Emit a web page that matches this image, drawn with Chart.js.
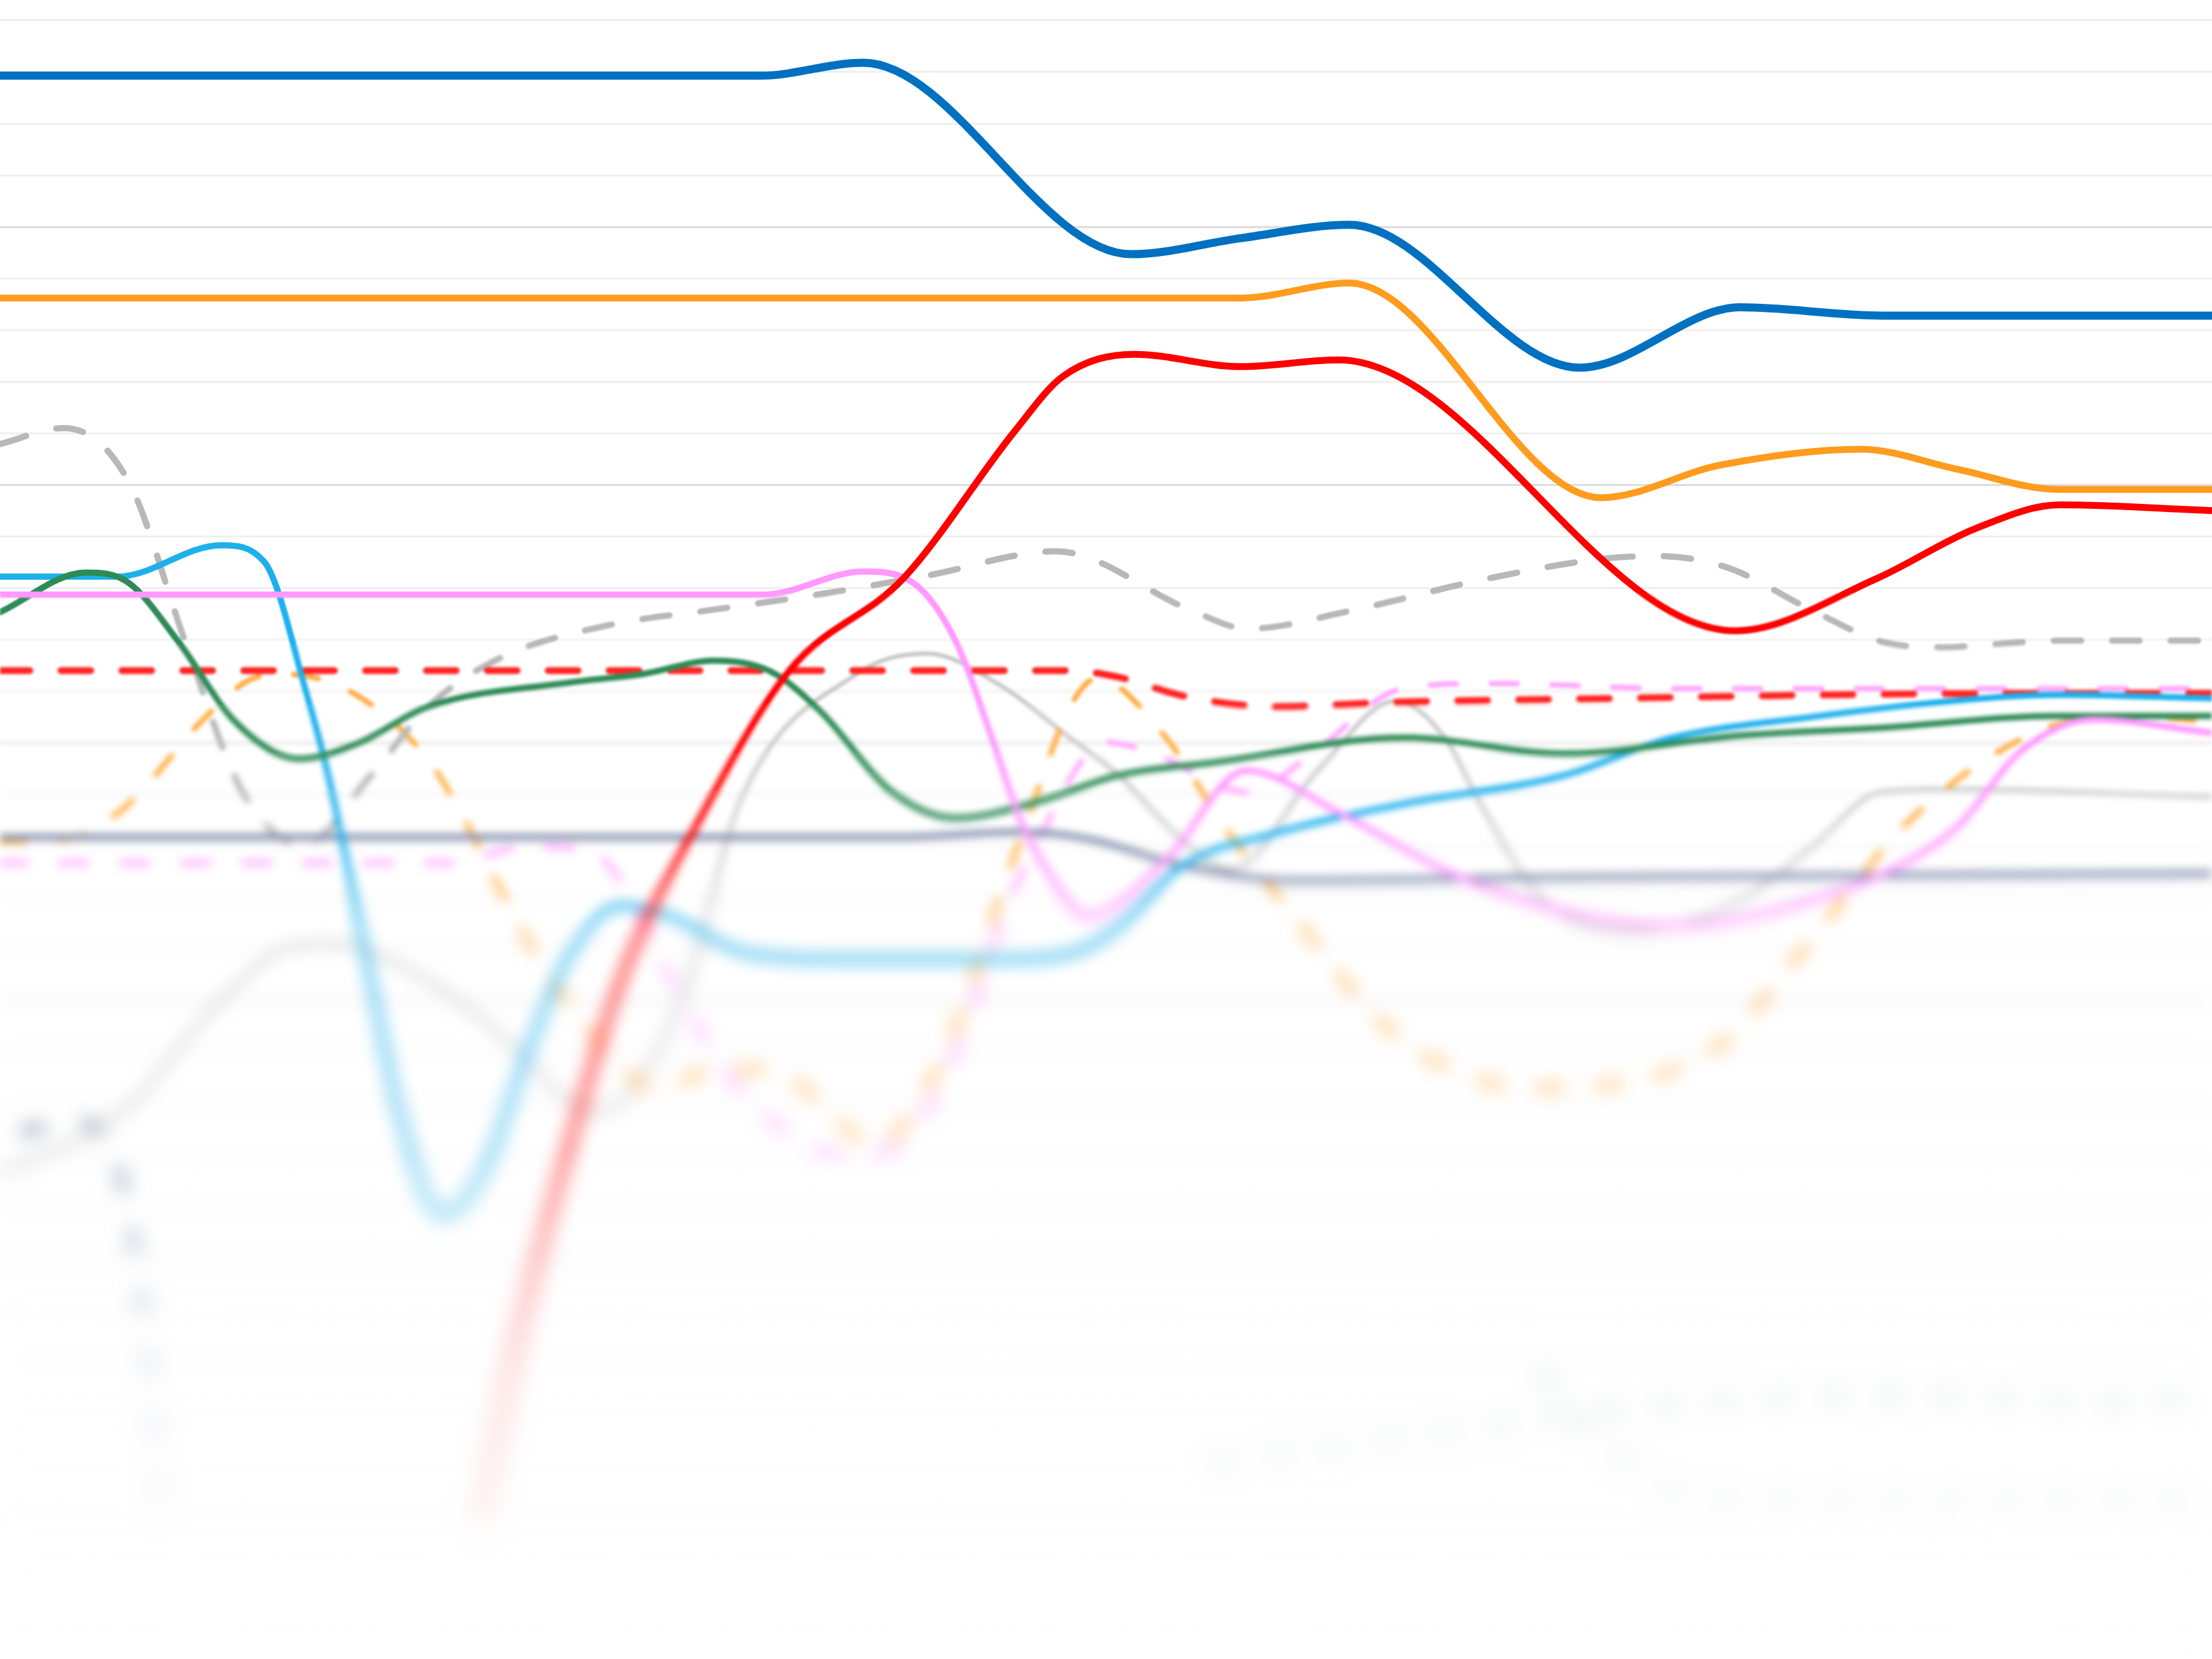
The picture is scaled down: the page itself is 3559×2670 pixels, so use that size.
<!DOCTYPE html>
<html><head><meta charset="utf-8">
<script src="https://cdn.jsdelivr.net/npm/chart.js@4.4.1/dist/chart.umd.min.js"></script>
<style>html,body{margin:0;padding:0;background:#fff;overflow:hidden;}#wrap{position:absolute;left:0;top:0;width:3559px;height:2670px;}</style>
</head><body><div id="wrap"><canvas id="c" width="3559" height="2670"></canvas></div>
<script>
// ---- data (x = time position, y = value) ----
const gridValues = [13,14,15,16,17,18,19,20,21,22,23,24,25,26,27,28,29,30,31,32,33,34,35,36,37,38,39,40,41,42,43,44];

const blueT = [0, 12.23, 13.89, 18.20, 19.96, 21.71, 25.42, 28.00, 30.28, 35.59];
const blueV = [42.93, 42.93, 43.18, 39.47, 39.78, 40.04, 37.27, 38.44, 38.28, 38.28];

const orangeT = [0, 19.96, 21.71, 25.76, 27.67, 29.94, 31.50, 33.12, 35.59];
const orangeV = [38.62, 38.62, 38.91, 34.75, 35.38, 35.69, 35.30, 34.91, 34.91];

const redT = [7.74, 8.27, 9.18, 9.99, 11.25, 12.71, 14.53, 16.34, 17.10, 18.25, 19.96, 21.54, 27.92, 30.19, 31.78, 33.14, 35.59];
const redV = [14.89, 18.13, 22.27, 25.39, 28.50, 31.41, 33.18, 36.06, 37.10, 37.53, 37.29, 37.42, 32.17, 33.18, 34.15, 34.61, 34.50];

const grayDashT = [0, 1.03, 2.07, 2.98, 3.90, 4.88, 5.97, 6.89, 8.04, 9.76, 11.48, 13.20, 14.92, 16.99, 19.16, 20.07, 21.77, 23.81, 25.74, 26.65, 27.78, 29.15, 30.28, 31.19, 33.12, 35.59];
const grayDashV = [35.79, 36.10, 35.06, 31.96, 29.05, 28.02, 29.37, 30.70, 31.64, 32.27, 32.58, 32.88, 33.24, 33.71, 32.57, 32.21, 32.57, 33.15, 33.56, 33.62, 33.40, 32.57, 31.96, 31.85, 31.98, 31.98];

const cyanT = [0, 1.89, 3.56, 4.25, 4.94, 5.28, 5.97, 6.43, 7.12, 7.81, 8.50, 9.18, 9.99, 10.79, 12.05, 13.78, 16.07, 17.22, 18.00, 19.03, 20.56, 22.60, 25.17, 26.88, 29.15, 31.42, 33.12, 35.59];
const cyanV = [33.22, 33.22, 33.83, 33.51, 30.92, 29.37, 25.39, 22.79, 20.83, 21.76, 24.04, 25.91, 26.84, 26.63, 25.91, 25.80, 25.80, 25.91, 26.43, 27.62, 28.26, 28.82, 29.37, 30.09, 30.50, 30.81, 30.93, 30.86];

const greenT = [0, 1.38, 2.07, 2.87, 3.79, 4.82, 5.74, 6.89, 9.18, 10.33, 11.48, 12.40, 13.20, 14.35, 15.38, 16.65, 18.00, 19.54, 22.60, 25.17, 28.01, 30.28, 33.12, 35.59];
const greenV = [32.53, 33.30, 33.10, 31.96, 30.40, 29.69, 29.98, 30.70, 31.17, 31.33, 31.59, 31.38, 30.61, 29.05, 28.54, 28.84, 29.37, 29.62, 30.10, 29.79, 30.14, 30.29, 30.52, 30.52];

const pinkT = [0, 12.28, 13.89, 14.69, 15.38, 15.96, 16.42, 16.88, 17.50, 18.77, 20.05, 21.58, 23.62, 26.80, 29.15, 31.42, 32.55, 33.68, 35.59];
const pinkV = [32.87, 32.87, 33.32, 33.10, 31.96, 30.09, 28.50, 27.46, 26.63, 27.74, 29.46, 28.62, 27.33, 26.45, 26.95, 28.29, 29.87, 30.45, 30.19];

const redDashT = [0, 17.20, 18.00, 19.03, 20.50, 22.50, 26.00, 29.50, 33.00, 35.59];
const redDashV = [31.40, 31.40, 31.27, 30.91, 30.70, 30.79, 30.86, 30.93, 30.96, 30.96];

const pinkDashT = [0, 7.20, 8.50, 9.50, 10.00, 10.90, 12.00, 13.78, 14.69, 15.50, 16.07, 16.65, 17.80, 18.50, 20.10, 21.00, 22.60, 24.00, 27.00, 35.59];
const pinkDashV = [27.67, 27.67, 27.99, 27.90, 27.30, 25.19, 23.14, 21.97, 22.49, 24.36, 26.43, 27.98, 30.01, 29.82, 29.04, 29.68, 31.06, 31.15, 31.05, 31.05];

const orangeDashT = [0, 1.10, 2.00, 3.30, 4.00, 4.59, 5.74, 6.89, 7.46, 8.30, 9.00, 10.60, 11.55, 12.50, 14.12, 14.92, 15.50, 16.07, 16.53, 17.22, 17.65, 18.70, 19.75, 21.00, 22.34, 23.93, 24.83, 25.86, 27.67, 29.03, 30.73, 32.55, 33.60, 34.50, 35.59];
const orangeDashV = [28.09, 28.14, 28.74, 30.49, 31.21, 31.33, 30.92, 29.67, 28.54, 26.57, 25.19, 23.30, 23.68, 23.61, 22.24, 23.32, 24.87, 26.95, 28.50, 30.70, 31.25, 30.19, 28.29, 26.37, 24.45, 23.42, 23.32, 23.37, 24.14, 26.01, 28.50, 30.09, 30.47, 30.50, 30.40];

const slateT = [0, 14.50, 16.40, 17.50, 19.03, 20.80, 25.00, 35.59];
const slateV = [28.17, 28.17, 28.27, 28.14, 27.62, 27.33, 27.39, 27.46];

const graySolidT = [0, 2.01, 3.44, 4.59, 5.28, 6.89, 8.04, 9.60, 11.01, 11.91, 13.78, 14.92, 16.07, 17.22, 18.00, 18.93, 19.80, 21.20, 22.45, 23.25, 23.81, 24.83, 26.33, 28.01, 29.15, 30.28, 31.42, 35.59];
const graySolidV = [21.63, 22.89, 24.87, 26.01, 26.11, 25.39, 24.36, 22.84, 25.12, 28.87, 31.33, 31.73, 31.13, 30.09, 29.37, 28.22, 27.54, 29.46, 30.81, 30.09, 28.84, 26.95, 26.36, 26.95, 27.98, 29.05, 29.10, 28.95];

const slateDashT = [-0.60, 0.36, 1.34, 1.87, 2.15, 2.40, 2.58];
const slateDashV = [22.24, 22.47, 22.63, 21.88, 20.31, 17.90, 15.30];

const faintAT = [19.53, 21.43, 23.44, 25.35, 27.46, 30.64, 33.81, 35.59];
const faintAV = [16.01, 16.34, 16.66, 16.97, 17.21, 17.34, 17.21, 17.30];
const faintBT = [24.80, 25.60, 26.83, 28.52, 31.70, 35.59];
const faintBV = [17.80, 16.70, 15.53, 15.29, 15.29, 15.29];

// ---- view / style ----
const X_MIN = 0, X_MAX = 35.59;
const Y_MIN = 12.24, Y_MAX = 44.397;
const BLUR_STOPS = [[0,0],[900,0],[1000,1.5],[1100,2.5],[1200,3.8],[1300,5.5],[1400,8],[1500,12.5],[1650,14],[1800,15],[1950,16.5],[2100,19],[2300,22],[2670,26]];
const FADE_STOPS = [[1850,0],[2050,0.35],[2250,0.65],[2450,0.8],[2670,0.85]];

const pts = (t, v) => t.map((x, i) => ({x: x, y: v[i]}));
function ds(t, v, color, width, dash) {
  return { data: pts(t, v), borderColor: color, borderWidth: width, borderDash: dash || [],
           fill: false, pointRadius: 0, cubicInterpolationMode: 'monotone',
           borderCapStyle: 'round', borderJoinStyle: 'round' };
}

function sigmaAt(y) {
  for (let i = 1; i < BLUR_STOPS.length; i++) {
    const a = BLUR_STOPS[i-1], b = BLUR_STOPS[i];
    if (y <= b[0]) return a[1] + (b[1]-a[1]) * (y - a[0]) / (b[0] - a[0]);
  }
  return BLUR_STOPS[BLUR_STOPS.length-1][1];
}

const blurPlugin = {
  id: 'depthBlur',
  afterDraw(chart) {
    const c = chart.canvas, ctx = chart.ctx;
    const W = c.width, H = c.height;
    const src = document.createElement('canvas'); src.width = W; src.height = H;
    src.getContext('2d').drawImage(c, 0, 0);
    ctx.save();
    ctx.setTransform(1,0,0,1,0,0);
    ctx.clearRect(0,0,W,H);
    const step = 6;
    for (let y0 = 0; y0 < H; y0 += step) {
      const s = sigmaAt(y0 + step/2);
      const pad = Math.ceil(s*3) + 2;
      const sy = Math.max(0, y0 - pad), ey = Math.min(H, y0 + step + pad);
      ctx.save();
      ctx.beginPath(); ctx.rect(0, y0, W, step); ctx.clip();
      ctx.filter = s > 0.25 ? 'blur(' + s.toFixed(2) + 'px)' : 'none';
      ctx.drawImage(src, 0, sy, W, ey - sy, 0, sy, W, ey - sy);
      ctx.restore();
    }
    // soft white haze toward the bottom
    const g = ctx.createLinearGradient(0, FADE_STOPS[0][0], 0, H);
    const span = H - FADE_STOPS[0][0];
    FADE_STOPS.forEach(f => g.addColorStop((f[0] - FADE_STOPS[0][0]) / span, 'rgba(255,255,255,' + f[1] + ')'));
    ctx.fillStyle = g;
    ctx.fillRect(0, FADE_STOPS[0][0], W, span);
    ctx.restore();
  }
};

const datasets = [
  ds(blueT, blueV, '#0070C0', 13),
  ds(orangeT, orangeV, '#FF9C1E', 11),
  ds(redT, redV, '#FF0000', 11),
  ds(pinkT, pinkV, '#FF99FF', 10),
  ds(greenT, greenV, '#2E8B57', 10),
  ds(cyanT, cyanV, '#1EB0EC', 10),
  ds(slateT, slateV, '#7D89AA', 10),
  ds(redDashT, redDashV, '#FF2222', 11, [48, 50]),
  ds(grayDashT, grayDashV, '#B8B8B8', 10, [44, 50]),
  ds(pinkDashT, pinkDashV, '#FFAAFF', 9, [42, 56]),
  ds(orangeDashT, orangeDashV, '#FFB04A', 9, [40, 56]),
  ds(graySolidT, graySolidV, '#C8C8C8', 7),
  ds(slateDashT, slateDashV, '#7884AA', 12, [30, 70]),
  ds(faintAT, faintAV, '#8A9A9A', 12, [30, 60]),
  ds(faintBT, faintBV, '#8A9A9A', 12, [30, 60])
];

new Chart(document.getElementById('c'), {
  type: 'line',
  data: { datasets: datasets },
  options: {
    responsive: false, animation: false, events: [], devicePixelRatio: 1,
    layout: { padding: 0 },
    plugins: { legend: { display: false }, tooltip: { enabled: false } },
    scales: {
      x: { type: 'linear', min: X_MIN, max: X_MAX, display: false },
      y: { type: 'linear', min: Y_MIN, max: Y_MAX, display: true,
           afterBuildTicks: s => { s.ticks = gridValues.map(v => ({ value: v })); },
           afterFit: s => { s.width = 0; },
           ticks: { display: false },
           border: { display: false },
           grid: { drawTicks: false, lineWidth: 3,
                   color: c => (c.tick && c.tick.value % 5 === 0) ? '#DCDCDC' : '#EFEFEF' } }
    }
  },
  plugins: [blurPlugin]
});
</script>
</body></html>
